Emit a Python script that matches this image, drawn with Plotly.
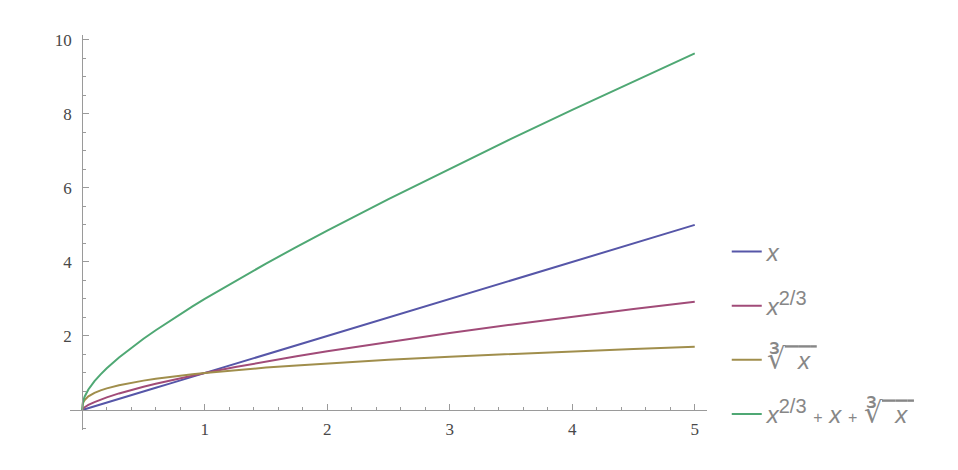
import plotly.graph_objects as go

# sample positions along x
x_vals = [0, 0.001, 0.005, 0.01, 0.02, 0.05, 0.1, 0.15, 0.2, 0.3, 0.4, 0.5, 0.6, 0.7,
          0.8, 0.9, 1.0, 1.25, 1.5, 1.75, 2.0, 2.5, 3.0, 3.5, 4.0, 4.5, 5.0]

y_x = [0, 0.001, 0.005, 0.01, 0.02, 0.05, 0.1, 0.15, 0.2, 0.3, 0.4, 0.5, 0.6, 0.7,
       0.8, 0.9, 1.0, 1.25, 1.5, 1.75, 2.0, 2.5, 3.0, 3.5, 4.0, 4.5, 5.0]

y_x23 = [0, 0.010, 0.029, 0.046, 0.074, 0.136, 0.215, 0.282, 0.342, 0.448, 0.543, 0.630,
         0.711, 0.788, 0.862, 0.932, 1.0, 1.160, 1.310, 1.452, 1.587, 1.842, 2.080,
         2.305, 2.520, 2.726, 2.924]

y_cbrt = [0, 0.100, 0.171, 0.215, 0.271, 0.368, 0.464, 0.531, 0.585, 0.669, 0.737, 0.794,
          0.843, 0.888, 0.928, 0.965, 1.0, 1.077, 1.145, 1.205, 1.260, 1.357, 1.442,
          1.518, 1.587, 1.651, 1.710]

y_sum = [0, 0.111, 0.205, 0.271, 0.365, 0.554, 0.779, 0.963, 1.127, 1.417, 1.680, 1.924,
         2.154, 2.376, 2.590, 2.797, 3.0, 3.487, 3.955, 4.407, 4.847, 5.699, 6.522,
         7.323, 8.107, 8.877, 9.634]

NB = "\u00a0"
plus = f"{NB}<span style='font-size:16px'>+</span>{NB}"
sup23 = "<sup><span style='font-size:20px'>2/3</span></sup>"
root = (f"<span style='font-size:29px'>∛</span>"
        f"<span style='text-decoration:overline'>{NB}{NB}<i>x</i>{NB}</span>")
series_names = [
    "<i>x</i>",
    f"<i>x</i>{sup23}",
    root,
    f"<i>x</i>{sup23}{plus}<i>x</i>{plus}{root}",
]
series_values = [y_x, y_x23, y_cbrt, y_sum]
colors = ["#5656A8", "#A14B78", "#A08E4C", "#4FA874"]

x_tickvals = [1, 2, 3, 4, 5]
y_tickvals = [2, 4, 6, 8, 10]

x_min, x_max = -0.1, 5.1
y_min, y_max = -0.54, 10.13

fig = go.Figure()
for i, (name, ys, c) in enumerate(zip(series_names, series_values, colors)):
    fig.add_trace(go.Scatter(
        x=x_vals, y=ys, mode="lines", name=name,
        line=dict(color=c, width=2), legendgroup=f"g{i}",
    ))

axis_color = "#9a9a9a"
tick_font = dict(family="Liberation Serif, DejaVu Serif, serif", size=17, color="#484848")

fig.update_layout(
    width=958, height=470,
    margin=dict(l=62, r=259, t=27, b=48),
    paper_bgcolor="white", plot_bgcolor="white",
    showlegend=True,
    legend=dict(
        x=1.031, y=0.508, xanchor="left", yanchor="top",
        font=dict(family="Liberation Sans, Arial, sans-serif", size=24, color="#878787"),
        tracegroupgap=20, bgcolor="rgba(0,0,0,0)",
    ),
    xaxis=dict(
        range=[x_min, x_max], anchor="free", position=(0 - y_min) / (y_max - y_min),
        showgrid=False, zeroline=False, showline=True, linecolor=axis_color, linewidth=1,
        tickmode="array", tickvals=x_tickvals, ticks="inside", ticklen=6, tickcolor=axis_color,
        tickfont=tick_font, ticklabelstandoff=4, automargin=False,
        minor=dict(dtick=0.2, tick0=0, ticks="inside", ticklen=3, tickcolor=axis_color, showgrid=False),
    ),
    yaxis=dict(
        range=[y_min, y_max], anchor="free", position=(0 - x_min) / (x_max - x_min),
        showgrid=False, zeroline=False, showline=True, linecolor=axis_color, linewidth=1,
        tickmode="array", tickvals=y_tickvals, ticks="inside", ticklen=6, tickcolor=axis_color,
        tickfont=tick_font, ticklabelstandoff=7, automargin=False,
        minor=dict(dtick=0.5, tick0=0, ticks="inside", ticklen=3, tickcolor=axis_color, showgrid=False),
    ),
)

fig.write_html("out.html")
